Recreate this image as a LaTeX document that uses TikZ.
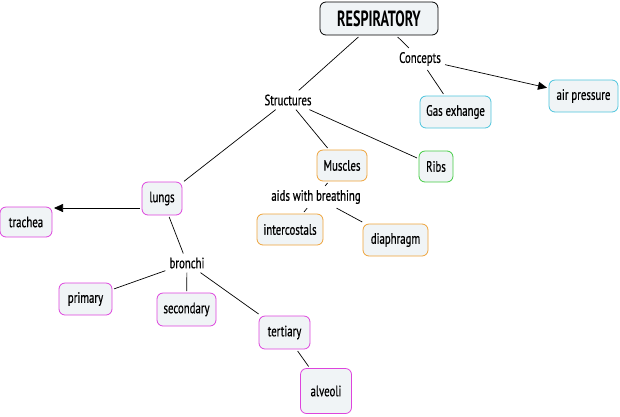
\documentclass[tikz,border=0pt]{standalone}
\usepackage{fontspec}
\setmainfont{PT Sans}[FakeStretch=0.72,FakeBold=0.6]
\newfontfamily\titlefont{PT Sans}[FakeStretch=0.64]
\usetikzlibrary{arrows.meta}
\definecolor{boxfill}{HTML}{F0F4F6}
\definecolor{cmag}{HTML}{DD44DD}
\definecolor{corange}{HTML}{EEA33A}
\definecolor{cgreen}{HTML}{44CC44}
\definecolor{ccyan}{HTML}{4CC4DC}
\tikzset{
  concept/.style={draw, rounded corners=6pt, fill=boxfill, line width=0.8pt, minimum height=31pt, inner xsep=6pt, font=\fontsize{15}{17}\selectfont, outer sep=2pt},
  lbl/.style={inner sep=4pt, font=\fontsize{15}{17}\selectfont},
  link/.style={line width=0.7pt},
  arr/.style={line width=0.7pt, -{Triangle[length=9pt,width=8pt]}},
}
\begin{document}
\begin{tikzpicture}[x=1pt,y=-1pt]
\useasboundingbox (0,0) rectangle (620,416);
\node[concept, draw=black, minimum width=118pt, minimum height=33pt, font=\fontsize{22}{24}\titlefont\bfseries] (resp) at (379,18.5) {RESPIRATORY};
\node[lbl] (concepts) at (420,59) {Concepts};
\node[concept, draw=ccyan, minimum width=69pt, minimum height=32pt] (air) at (583.5,96) {air pressure};
\node[concept, draw=ccyan, minimum width=71pt, minimum height=32pt] (gas) at (455.5,112) {Gas exhange};
\node[lbl] (struct) at (288,100) {Structures};
\node[concept, draw=corange, minimum width=50pt] (muscles) at (342,165.5) {Muscles};
\node[concept, draw=cgreen, minimum width=34pt] (ribs) at (436,166.5) {Ribs};
\node[lbl] (aids) at (316,197) {aids with breathing};
\node[concept, draw=corange, minimum width=66pt] (inter) at (290,229.5) {intercostals};
\node[concept, draw=corange, minimum width=65pt, minimum height=32pt] (dia) at (395.5,240) {diaphragm};
\node[concept, draw=cmag, minimum width=40pt, minimum height=33pt] (lungs) at (162,198.5) {lungs};
\node[concept, draw=cmag, minimum width=52pt, minimum height=30pt] (trachea) at (26,222) {trachea};
\node[lbl] (bronchi) at (187,263) {bronchi};
\node[concept, draw=cmag, minimum width=53pt, minimum height=32pt] (primary) at (85.5,299) {primary};
\node[concept, draw=cmag, minimum width=59pt, minimum height=33pt] (secondary) at (186.5,309.5) {secondary};
\node[concept, draw=cmag, minimum width=51pt, minimum height=33pt] (tertiary) at (284.5,332.5) {tertiary};
\node[concept, draw=cmag, minimum width=51pt, minimum height=45pt] (alveoli) at (326,391) {alveoli};
\draw[link] (resp) -- (struct);
\draw[link] (resp) -- (concepts);
\draw[arr] (concepts) -- (air);
\draw[link] (concepts) -- (gas);
\draw[link] (struct) -- (lungs);
\draw[link] (struct) -- (muscles);
\draw[link] (struct) -- (ribs);
\draw[link] (muscles) -- (aids);
\draw[link] (aids) -- (inter);
\draw[link] (aids) -- (dia);
\draw[arr] ([yshift=-9.5pt]lungs.west) -- ([yshift=-9.5pt]lungs.west -| trachea.east);
\draw[link] (lungs) -- (bronchi);
\draw[link] (bronchi) -- (primary);
\draw[link] (bronchi) -- (secondary);
\draw[link] (bronchi) -- (tertiary);
\draw[link] (tertiary) -- (alveoli);
\end{tikzpicture}
\end{document}
